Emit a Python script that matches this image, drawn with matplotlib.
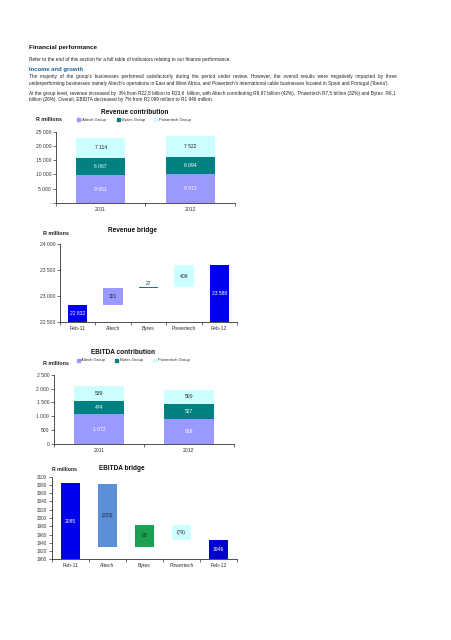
import numpy as np
import matplotlib
matplotlib.use("Agg")
import matplotlib.pyplot as plt
from matplotlib.patches import Rectangle


# page size in pixels (dpi 100)
W, H = 452, 640
FONT = ['Liberation Sans', 'DejaVu Sans']
plt.rcParams['font.family'] = FONT

###########################################################################
# data
###########################################################################
groups = ['Altech Group', 'Bytes Group', 'Powertech Group']
group_colors = ['#9999FF', '#008080', '#CCFFFF']
group_text = ['white', 'white', '#222222']

years = ['2011', '2012']
rev_altech = [9651, 9972]
rev_bytes = [6067, 6094]
rev_power = [7114, 7522]

bridge_cats = ['Feb-11', 'Altech', 'Bytes', 'Powertech', 'Feb-12']
rev_bridge = [22832, 321, 27, 408, 23588]     # start, steps, end

ebitda_altech = [1072, 919]
ebitda_bytes = [474, 527]
ebitda_power = [539, 500]

# EBITDA bridge, labels and the spans as drawn in the source picture
ebitda_labels = ['2085', '(153)', '93', '(79)', '1946']
ebitda_low = [1900, 1930, 1930, 1946, 1900]
ebitda_high = [2085, 2082, 1983, 1983, 1946]

###########################################################################
# text
###########################################################################
heading = "Financial performance"
intro = "Refer to the end of this section for a full table of indicators relating to our finance performance."
subheading = "Income and growth"
para1 = ["The majority of the group's businesses performed satisfactorily during the period under review. However, the overall results were negatively impacted by three",
         "underperforming businesses namely Altech's operations in East and West Africa, and Powertech's international cable businesses located in Spain and Portugal ('Iberia')."]
para2 = ["At the group level, revenue increased by 3% from R22,8 billion to R23,6 billion, with Altech contributing R9,97 billion (42%), Powertech R7,5 billion (32%) and Bytes R6,1",
         "billion (26%). Overall, EBIDTA decreased by 7% from R2 099 million to R1 946 million."]

BODY = 3.45

fig = plt.figure(figsize=(W / 100, H / 100), dpi=100)
fig.patch.set_facecolor('white')
renderer = fig.canvas.get_renderer()


def put(x, y, s, size, **kw):
    return fig.text(x / W, 1 - y / H, s, fontsize=size, va='center_baseline', **kw)


def text_width(s, size):
    t = fig.text(0, 0, s, fontsize=size)
    w = t.get_window_extent(renderer).width
    t.remove()
    return w


# justified line: pad the gaps with extra spaces until it fills the width
def put_justified(x0, y, s, size, width):
    words = s.split()
    space = text_width('a a', size) - text_width('aa', size)
    extra = int(round((width - text_width(s, size)) / space))
    gaps = len(words) - 1
    out = words[0]
    for i, w in enumerate(words[1:]):
        n = 1 + (extra * (i + 1)) // gaps - (extra * i) // gaps
        out += ' ' * n + w
    put(x0, y, out, size, color='#222222')


put(29, 47, heading, 4.6, weight='bold', color='#111111')
put(29, 58.7, intro, BODY, color='#222222')
put(29, 69.3, subheading, 4.2, weight='bold', color='#1F6391')
put_justified(29, 75.7, para1[0], BODY, 368)
put(29, 82.7, para1[1], BODY, color='#222222')
put_justified(29, 93, para2[0], BODY, 367)
put(29, 98.5, para2[1], BODY, color='#222222')


def make_axes(x0, x1, y_top, y_bot):
    ax = fig.add_axes([x0 / W, 1 - y_bot / H, (x1 - x0) / W, (y_bot - y_top) / H])
    for s in ['top', 'right']:
        ax.spines[s].set_visible(False)
    for s in ['left', 'bottom']:
        ax.spines[s].set_linewidth(0.6)
        ax.spines[s].set_color('#333333')
    ax.tick_params(axis='y', labelsize=3.6, length=2, width=0.5, pad=1.5, colors='#333333')
    ax.tick_params(axis='x', which='major', labelsize=3.7, length=0, pad=3, colors='#333333')
    ax.tick_params(axis='x', which='minor', length=2, width=0.5, color='#333333')
    return ax


def legend(y, xs):
    for name, col, x in zip(groups, group_colors, xs):
        fig.patches.append(Rectangle(((x - 1.5) / W, 1 - (y + 1.5) / H), 3 / W, 3 / H,
                                     color=col, transform=fig.transFigure, figure=fig))
        put(x + 3, y, name, 3.0, color='#333333')


def stacked(ax, series, width, fmt):
    x = np.arange(len(years))
    bottom = np.zeros(len(years))
    for vals, col, tc in zip(series, group_colors, group_text):
        ax.bar(x, vals, width, bottom=bottom, color=col)
        for xi, b, v in zip(x, bottom, vals):
            ax.text(xi, b + v / 2, fmt(v), ha='center', va='center', fontsize=3.6, color=tc)
        bottom = bottom + np.array(vals)
    ax.set_xlim(-0.5, len(years) - 0.5)
    ax.set_xticks(x)
    ax.set_xticklabels(years)
    ax.set_xticks(np.arange(len(years) + 1) - 0.5, minor=True)


def thousands(v):
    return '{:,}'.format(v).replace(',', ' ')


###########################################################################
# Revenue contribution
###########################################################################
ax1 = make_axes(56, 235, 131.5, 203)
stacked(ax1, [rev_altech, rev_bytes, rev_power], 0.55, thousands)
ax1.set_ylim(0, 25000)
ax1.set_yticks(np.arange(0, 25001, 5000))
ax1.set_yticklabels(['-'] + [thousands(v) for v in range(5000, 25001, 5000)])
put(135, 112, 'Revenue contribution', 4.7, weight='bold', ha='center', color='#111111')
put(36.5, 119.3, 'R millions', 3.9, weight='bold', color='#222222')
legend(119.5, [79, 119, 156])

###########################################################################
# Revenue bridge
###########################################################################
ax2 = make_axes(60, 237, 244, 322)
xb = np.arange(len(bridge_cats))
start, steps, end = rev_bridge[0], rev_bridge[1:-1], rev_bridge[-1]
lows = [22500]
highs = [start]
run = start
for s in steps:
    lows.append(run)
    run += s
    highs.append(run)
lows.append(22500)
highs.append(end)
bcol = ['#0000EE', group_colors[0], group_colors[1], group_colors[2], '#0000EE']
btxt = ['white', '#222244', '#114444', '#222222', 'white']
for i in range(len(xb)):
    ax2.bar(xb[i], highs[i] - lows[i], 0.55, bottom=lows[i], color=bcol[i])
    if highs[i] - lows[i] < 60:
        ax2.text(xb[i], highs[i] + 12, thousands(rev_bridge[i]), ha='center', va='bottom',
                 fontsize=3.6, color='#114444')
    else:
        ax2.text(xb[i], (lows[i] + highs[i]) / 2, thousands(rev_bridge[i]), ha='center',
                 va='center', fontsize=3.6, color=btxt[i])
ax2.set_xlim(-0.5, len(xb) - 0.5)
ax2.set_ylim(22500, 24000)
ax2.set_yticks(np.arange(22500, 24001, 500))
ax2.set_yticklabels([thousands(v) for v in range(22500, 24001, 500)])
ax2.set_xticks(xb)
ax2.set_xticklabels(bridge_cats)
ax2.set_xticks(np.arange(len(xb) + 1) - 0.5, minor=True)
put(133, 230, 'Revenue bridge', 4.7, weight='bold', ha='center', color='#111111')
put(43, 233, 'R millions', 3.9, weight='bold', color='#222222')

###########################################################################
# EBITDA contribution
###########################################################################
ax3 = make_axes(54, 234, 374.7, 444)
stacked(ax3, [ebitda_altech, ebitda_bytes, ebitda_power], 0.55, thousands)
ax3.set_ylim(0, 2500)
ax3.set_yticks(np.arange(0, 2501, 500))
ax3.set_yticklabels([thousands(v) for v in range(0, 2501, 500)])
put(123, 352, 'EBITDA contribution', 4.7, weight='bold', ha='center', color='#111111')
put(43, 363, 'R millions', 3.9, weight='bold', color='#222222')
legend(360, [78, 117, 155])

###########################################################################
# EBITDA bridge
###########################################################################
ax4 = make_axes(52, 237, 476.7, 559.3)
ecol = ['#0000EE', '#5B8FD8', '#1AA050', group_colors[2], '#0000CC']
etxt = ['white', '#222244', '#113322', '#222222', 'white']
for i in range(len(bridge_cats)):
    ax4.bar(i, ebitda_high[i] - ebitda_low[i], 0.53, bottom=ebitda_low[i], color=ecol[i])
    ax4.text(i, (ebitda_low[i] + ebitda_high[i]) / 2, ebitda_labels[i], ha='center',
             va='center', fontsize=3.6, color=etxt[i])
ax4.set_xlim(-0.5, len(bridge_cats) - 0.5)
ax4.set_ylim(1900, 2100)
ax4.set_yticks(np.arange(1900, 2101, 20))
ax4.tick_params(axis='y', labelsize=3.3)
ax4.set_xticks(np.arange(len(bridge_cats)))
ax4.set_xticklabels(bridge_cats)
ax4.set_xticks(np.arange(len(bridge_cats) + 1) - 0.5, minor=True)
put(122, 467.7, 'EBITDA bridge', 4.7, weight='bold', ha='center', color='#111111')
put(52, 468.7, 'R millions', 3.7, weight='bold', color='#222222')

fig.savefig('out.png', dpi=100, facecolor='white')
